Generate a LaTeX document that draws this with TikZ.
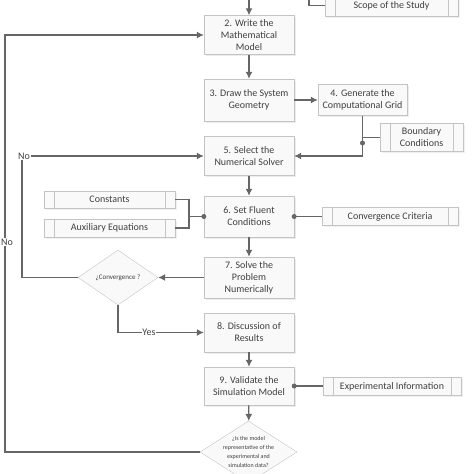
\documentclass[tikz,border=0pt]{standalone}
\usepackage{fontspec}
\setmainfont{Carlito}
\usetikzlibrary{shapes.geometric,arrows.meta,shadows,calc}
\definecolor{ln}{HTML}{666666}
\definecolor{bd}{HTML}{C4C4C4}
\definecolor{tx}{HTML}{404040}
\definecolor{bf}{HTML}{F9F9F9}
\begin{document}
\begin{tikzpicture}[x=1pt,y=-1pt,
 every node/.style={text=tx},
 stepbox/.style={draw=bd, fill=bf, align=center, minimum width=90pt, minimum height=39pt, inner sep=1pt,
   font=\fontsize{10}{12}\selectfont,
   drop shadow={shadow xshift=1.5pt, shadow yshift=-1.5pt, opacity=0.15}},
 sidebox/.style={draw=bd, fill=bf, align=center, inner sep=1pt, font=\fontsize{10}{12}\selectfont,
   drop shadow={shadow xshift=1.5pt, shadow yshift=-1.5pt, opacity=0.12},
   path picture={\draw[bd]
     ([xshift=10pt]path picture bounding box.north west) -- ([xshift=10pt]path picture bounding box.south west)
     ([xshift=-10pt]path picture bounding box.north east) -- ([xshift=-10pt]path picture bounding box.south east);}},
 decision/.style={draw=bd, fill=bf, diamond, inner sep=0pt},
 conn/.style={draw=ln, line width=1.2pt},
 arr/.style={conn, -{Latex[length=7pt,width=7pt]}},
 dot/.style={circle, fill=ln, inner sep=0pt, minimum size=5pt},
 lab/.style={font=\fontsize{10}{12}\selectfont, inner sep=0.5pt},
]
\useasboundingbox (0,0) rectangle (474,474);
\clip (0,0) rectangle (474,474);

% main steps
\node[stepbox] (b2) at (249,35) {2. Write the\\Mathematical\\Model};
\node[stepbox, minimum height=42pt] (b3) at (249,100) {3. Draw the System\\Geometry};
\node[stepbox, minimum width=89pt, minimum height=31pt] (b4) at (362.5,100) {4. Generate the\\Computational Grid};
\node[stepbox] (b5) at (249,156) {5. Select the\\Numerical Solver};
\node[stepbox, minimum height=41pt] (b6) at (249,216.5) {6. Set Fluent\\Conditions};
\node[stepbox, minimum height=41pt] (b7) at (249,277.5) {7. Solve the\\Problem\\Numerically};
\node[stepbox] (b8) at (249,332.5) {8. Discussion of\\Results};
\node[stepbox, minimum height=38pt] (b9) at (249,386) {9. Validate the\\Simulation Model};

% side inputs
\node[sidebox, minimum width=133pt, minimum height=21pt] (scope) at (391.5,5.5) {Scope of the Study};
\node[sidebox, minimum width=83pt, minimum height=28pt] (bc) at (421.5,137.5) {Boundary\\Conditions};
\node[sidebox, minimum width=131pt, minimum height=17pt] (const) at (109.5,199.5) {Constants};
\node[sidebox, minimum width=131pt, minimum height=18pt] (aux) at (109.5,228) {Auxiliary Equations};
\node[sidebox, minimum width=136pt, minimum height=18pt] (cc) at (390,216.5) {Convergence Criteria};
\node[sidebox, minimum width=138pt, minimum height=18pt] (ei) at (392,386.5) {Experimental Information};

% decisions
\node[decision, minimum width=80pt, minimum height=55pt, aspect=1.5,
  font=\fontsize{7}{8}\selectfont] (conv) at (118,277.5) {¿Convergence ?};
\node[decision, minimum width=97pt, minimum height=62pt] (d2) at (248.5,452) {};
\node[align=center, inner sep=0pt, font=\fontsize{6}{8.8}\selectfont] (d2t) at (d2.center)
  {¿Is the model\\representative of the\\experimental and\\simulation data?};

% connectors
\coordinate (top1) at (249,-8);
\coordinate (top2) at (309,-8);
\draw[arr] (top1) -- (b2.north);
\draw[conn] (top2) |- (scope.west);
\draw[arr] (b2) -- (b3);
\draw[arr] (b3.east) -- (b3.east -| b4.west);
\draw[arr] (b4.south) |- (b5.east);
\coordinate (bcj) at (362.5,143);
\draw[conn] (bc.west) -| (bcj);
\node[dot] (bcdot) at (bcj) {};
\draw[arr] (b5) -- (b6);
\coordinate (cj) at (189,216.5);
\draw[conn] (const.east) -| (cj);
\draw[conn] (aux.east) -| (cj);
\draw[conn] (cj) -- (b6.west);
\node[dot] (d6w) at (b6.west) {};
\draw[conn] (b6.east) -- (cc.west);
\node[dot] (d6e) at (b6.east) {};
\draw[arr] (b6) -- (b7);
\draw[arr] (b7.west) -- (conv.east);
\node[lab] (no1) at (24,156) {No};
\draw[conn] (conv.west) -| ([xshift=-2pt]no1.south);
\draw[arr] (no1.east) -- (b5.west);
\draw[arr] (conv.south) |- node[lab, pos=0.68, fill=white] (yes) {Yes} (b8.west);
\draw[arr] (b8) -- (b9);
\draw[conn] (b9.east) -- (b9.east -| ei.west);
\node[dot] (d9e) at (b9.east) {};
\draw[arr] (b9) -- (d2);
\coordinate (lt) at (5,35);
\draw[arr] (d2.west) -| (lt) -- (b2.west);
\node[lab, fill=white] (no2) at (7,242) {No};
\end{tikzpicture}
\end{document}
